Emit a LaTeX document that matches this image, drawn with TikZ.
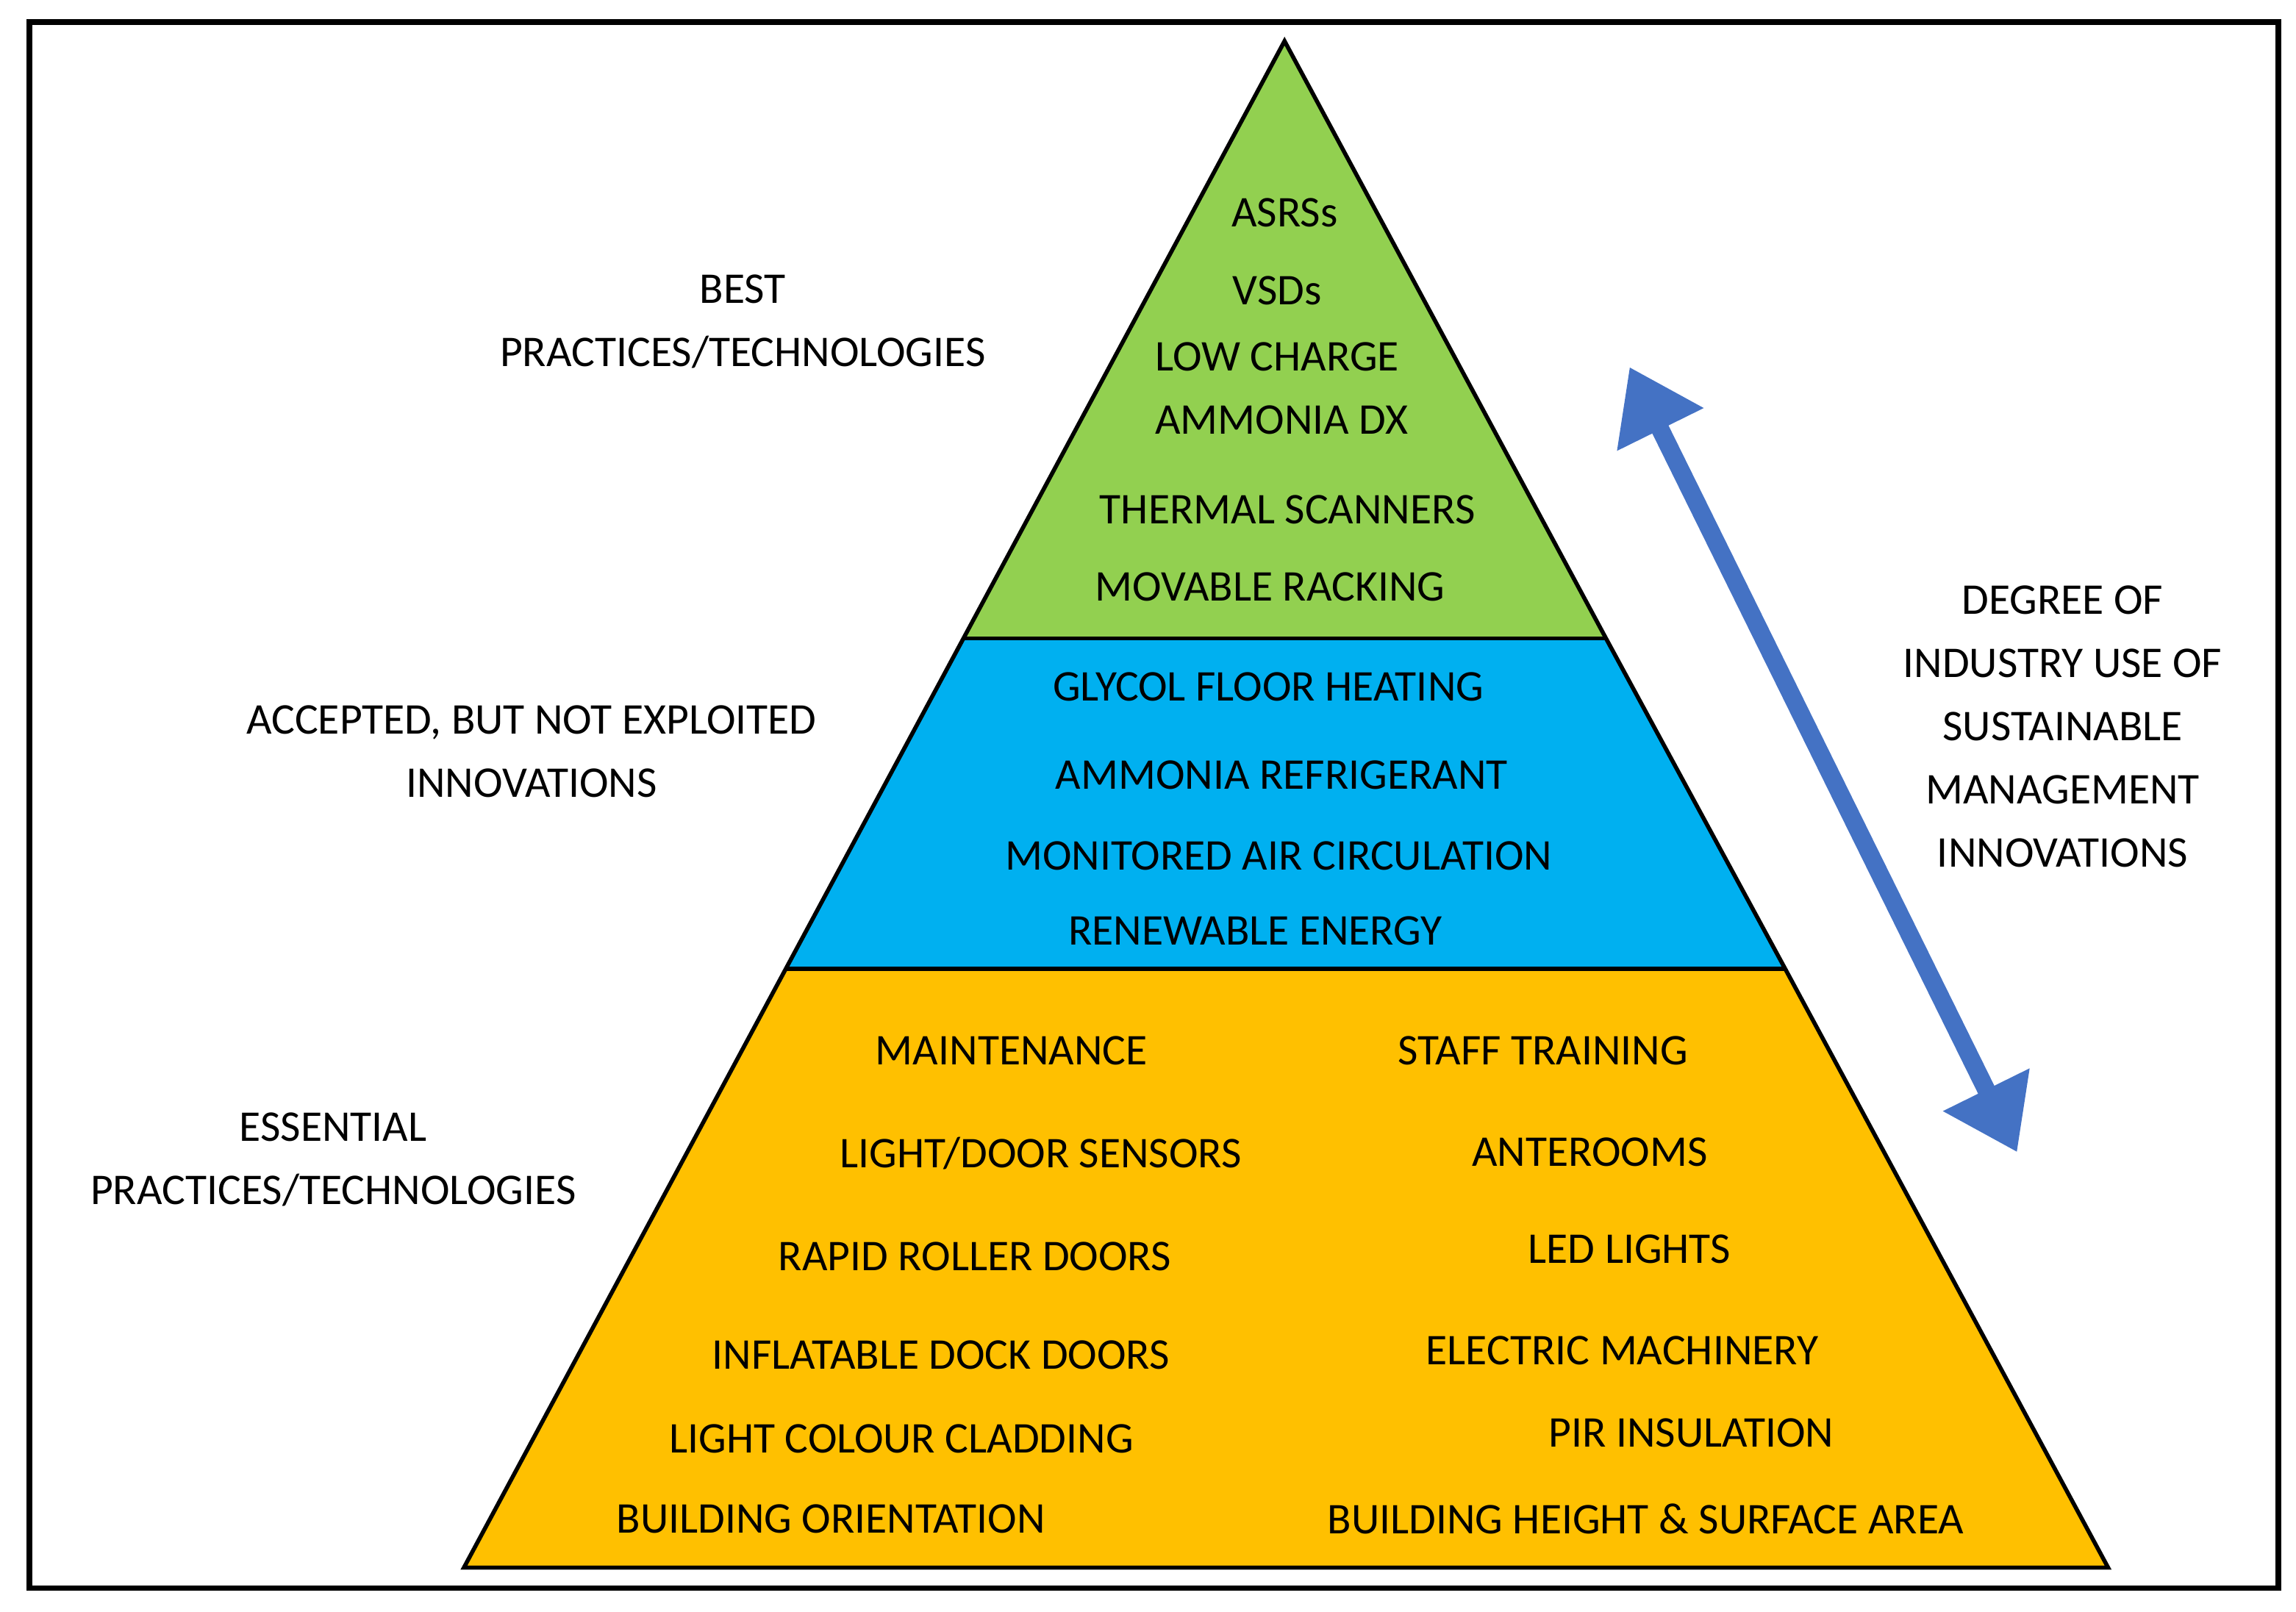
\documentclass[tikz,border=0pt]{standalone}
\usepackage{fontspec}
\setmainfont{Carlito}
\usetikzlibrary{arrows.meta}
\definecolor{pgreen}{HTML}{92D050}
\definecolor{pblue}{HTML}{00B0F0}
\definecolor{pyellow}{HTML}{FFC000}
\definecolor{arrblue}{HTML}{4472C4}
\begin{document}
\begin{tikzpicture}[x=0.02cm,y=-0.02cm,
  lbl/.style={font=\fontsize{17}{24.5}\selectfont,align=center,inner sep=0pt},
  tier/.style={draw=black,line width=1.6pt,line join=miter}]
\useasboundingbox (0,0) rectangle (1564,1098);
\draw[line width=2.2pt] (20,15) rectangle (1552,1082);
\coordinate (apex) at (875,28);
\coordinate (gl) at (656,435); \coordinate (gr) at (1094,435);
\coordinate (bl) at (535,660); \coordinate (br) at (1216,660);
\coordinate (yl) at (316,1068); \coordinate (yr) at (1436,1068);
\fill[pyellow] (bl) -- (br) -- (yr) -- (yl) -- cycle;
\fill[pblue] (gl) -- (gr) -- (br) -- (bl) -- cycle;
\fill[pgreen] (apex) -- (gr) -- (gl) -- cycle;
\draw[tier] (apex) -- (yl) -- (yr) -- (br) -- (gr) -- cycle;
\draw[tier] (gl) -- (gr);
\draw[tier] (bl) -- (br);
\node[lbl] (t1) at (875,145) {ASRSs};
\node[lbl] (t2) at (870,198) {VSDs};
\node[lbl] (t3) at (870,243) {LOW CHARGE};
\node[lbl] (t4) at (873,286) {AMMONIA DX};
\node[lbl] (t5) at (877,347) {THERMAL SCANNERS};
\node[lbl] (t6) at (865,400) {MOVABLE RACKING};
\node[lbl] (m1) at (864,468) {GLYCOL FLOOR HEATING};
\node[lbl] (m2) at (873,528) {AMMONIA REFRIGERANT};
\node[lbl] (m3) at (871,583) {MONITORED AIR CIRCULATION};
\node[lbl] (m4) at (855,634) {RENEWABLE ENERGY};
\node[lbl] (a1) at (689,716) {MAINTENANCE};
\node[lbl] (a2) at (709,786) {LIGHT/DOOR SENSORS};
\node[lbl] (a3) at (664,856) {RAPID ROLLER DOORS};
\node[lbl] (a4) at (641,923) {INFLATABLE DOCK DOORS};
\node[lbl] (a5) at (614,980) {LIGHT COLOUR CLADDING};
\node[lbl] (a6) at (566,1035) {BUILDING ORIENTATION};
\node[lbl] (b1) at (1051,716) {STAFF TRAINING};
\node[lbl] (b2) at (1083,785) {ANTEROOMS};
\node[lbl] (b3) at (1110,851) {LED LIGHTS};
\node[lbl] (b4) at (1105,920) {ELECTRIC MACHINERY};
\node[lbl] (b5) at (1152,976) {PIR INSULATION};
\node[lbl] (b6) at (1121,1035) {BUILDING HEIGHT \& SURFACE AREA};
\node[lbl] (s1) at (506,219) {BEST\\PRACTICES/TECHNOLOGIES};
\node[lbl] (s2) at (362,512) {ACCEPTED, BUT NOT EXPLOITED\\INNOVATIONS};
\node[lbl] (s3) at (227,790) {ESSENTIAL\\PRACTICES/TECHNOLOGIES};
\node[lbl] (deg) at (1405,495) {DEGREE OF\\INDUSTRY USE OF\\SUSTAINABLE\\MANAGEMENT\\INNOVATIONS};
\coordinate (arrtop) at (1110,250);
\coordinate (arrbot) at (1374,785);
\draw[arrblue,line width=7pt,{Triangle[length=0.95cm,width=1.25cm]}-{Triangle[length=0.95cm,width=1.25cm]}] (arrtop) -- (arrbot);
\end{tikzpicture}
\end{document}
